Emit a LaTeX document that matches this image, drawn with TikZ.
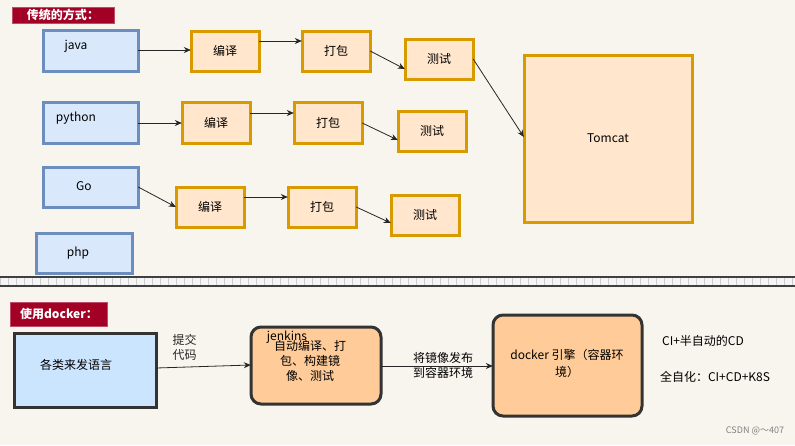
\documentclass[tikz,border=0pt]{standalone}
\usepackage{fontspec}
\setmainfont{Noto Sans CJK SC}
\usetikzlibrary{arrows.meta}
\definecolor{bg}{HTML}{F8F5EE}
\definecolor{tred}{HTML}{A20025}
\definecolor{lblue}{HTML}{DAE8FC}
\definecolor{sblue}{HTML}{6C8EBF}
\definecolor{lorange}{HTML}{FFE6CC}
\definecolor{sorange}{HTML}{D79B00}
\definecolor{jblue}{HTML}{CCE5FF}
\definecolor{jorange}{HTML}{FFCC99}
\begin{document}
\begin{tikzpicture}[x=1pt,y=-1pt,font=\fontsize{12}{15}\selectfont,
  lang/.style={draw=sblue,fill=lblue,line width=3pt},
  proc/.style={draw=sorange,fill=lorange,line width=3pt},
  title/.style={fill=tred,draw=tred!70,text=white,font=\fontsize{12}{14}\selectfont\bfseries},
  arr/.style={-{Stealth[length=7pt,width=6pt]},thick,black!85},
  big/.style={draw=black!80,line width=3pt,rounded corners=10pt,fill=jorange}]
\fill[bg] (0,0) rectangle (795,445);
\useasboundingbox (0,0) rectangle (795,445);

\node[title,minimum width=102pt,minimum height=16pt,inner sep=0pt] (t1) at (63,15) {传统的方式：};

\newcommand\bx[6]{\draw[#1] (#2,#3) rectangle (#4,#5); \node (#6) at ({(#2+#4)/2},{(#3+#5)/2}) [minimum width={#4-#2},minimum height={#5-#3}] {};}
% languages
\bx{lang}{43}{30}{138}{71}{java}   \node at (76,46) {java};
\bx{lang}{43}{102}{138}{143}{py}   \node at (76,118) {python};
\bx{lang}{43}{167}{138}{207}{go}   \node at (84,186) {Go};
\bx{lang}{36}{233}{132}{273}{php}  \node at (78,253) {php};
% row 1
\bx{proc}{191}{31}{259}{71}{c1}  \node at (c1) {编译};
\bx{proc}{302}{31}{370}{71}{p1}  \node at (p1) {打包};
\bx{proc}{405}{39}{473}{79}{s1}  \node at (s1) {测试};
% row 2
\bx{proc}{182}{102}{250}{143}{c2}  \node at (c2) {编译};
\bx{proc}{294}{102}{362}{143}{p2}  \node at (p2) {打包};
\bx{proc}{398}{111}{466}{151}{s2}  \node at (s2) {测试};
% row 3
\bx{proc}{176}{187}{244}{227}{c3}  \node at (c3) {编译};
\bx{proc}{288}{187}{356}{227}{p3}  \node at (p3) {打包};
\bx{proc}{391}{195}{459}{235}{s3}  \node at (s3) {测试};
\bx{proc}{524}{55}{692}{222}{tc}   \node at (tc) {Tomcat};

\draw[arr] (java.east |- 0,50) -- (c1.west |- 0,50);
\draw[arr] (c1.east |- 0,41) -- (p1.west |- 0,41);
\draw[arr] (p1.east |- 0,51) -- (s1.west |- 0,69);
\draw[arr] (s1.east |- 0,59) -- (tc.west |- 0,137);
\draw[arr] (py.east |- 0,123) -- (c2.west |- 0,123);
\draw[arr] (c2.east |- 0,113) -- (p2.west |- 0,113);
\draw[arr] (p2.east |- 0,123) -- (s2.west |- 0,140);
\draw[arr] (go.east |- 0,187) -- (c3.west |- 0,207);
\draw[arr] (c3.east |- 0,197) -- (p3.west |- 0,197);
\draw[arr] (p3.east |- 0,207) -- (s3.west |- 0,223);

% separator
\fill[white!92!gray] (0,278) rectangle (795,285);
\foreach \i in {0,8,...,795} \draw[gray!40,very thin] (\i,278) -- (\i,285);
\draw[black!75,line width=1.5pt] (0,277) -- (795,277);
\draw[black!75,line width=1.5pt] (0,286) -- (795,286);

\node[title,minimum width=97pt,minimum height=24pt,inner sep=0pt] (t2) at (59,314) {使用docker：};

\draw[draw=black!80,fill=jblue,line width=3pt] (14,333) rectangle (156,407);
\node[minimum width=142pt,minimum height=74pt] (src) at (85,370) {};
\node at (76,365) {各类来发语言};
\draw[big] (251,327) rectangle (381,404);
\node[minimum width=130pt,minimum height=77pt] (jk) at (316,365.5) {};
\node[align=center,font=\fontsize{12}{15}\selectfont] at (310,361) {自动编译、打\\包、构建镜\\像、测试};
\node at (287,337) {jenkins};
\draw[big] (493,315) rectangle (642,416);
\node[minimum width=149pt,minimum height=101pt] (dk) at (567.5,365.5) {};
\node[align=center,font=\fontsize{12}{17}\selectfont] at (567,363) {docker 引擎（容器环\\境）};

\draw[arr] (src.east |- 0,368) -- (jk.west |- 0,365) node[pos=0.3,above=3pt,align=center,font=\fontsize{12}{15}\selectfont] {提交\\代码};
\draw[arr] (jk.east |- 0,366) -- (dk.west |- 0,366);
\node[align=center,font=\fontsize{12}{15}\selectfont] at (443,365) {将镜像发布\\到容器环境};

\node at (703,341) {CI+半自动的CD};
\node at (715,377) {全自化：CI+CD+K8S};
\node[text=gray,font=\fontsize{9}{11}\selectfont] at (755,431) {CSDN @～407};
\end{tikzpicture}
\end{document}
